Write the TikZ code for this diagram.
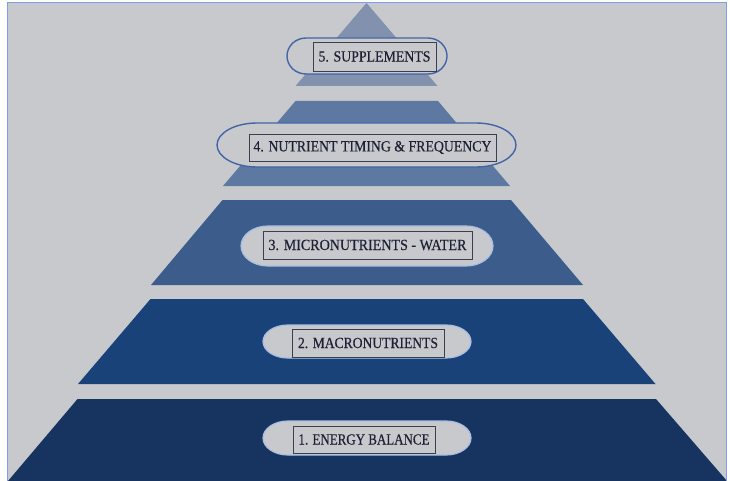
\documentclass[tikz,border=0pt]{standalone}
\usepackage{fontspec}
\setmainfont{Liberation Serif}
\newfontfamily\lblfont[FakeBold=0.4]{Liberation Serif}
\usepackage{graphicx}
\definecolor{bgc}{RGB}{200,201,205}
\definecolor{framec}{RGB}{125,158,235}
\definecolor{tfive}{RGB}{129,145,174}
\definecolor{tfour}{RGB}{94,121,161}
\definecolor{tthree}{RGB}{60,93,140}
\definecolor{ttwo}{RGB}{25,66,121}
\definecolor{tone}{RGB}{22,52,95}
\definecolor{ovblue}{RGB}{66,100,168}
\definecolor{ovglow}{RGB}{170,190,225}
\definecolor{rectc}{RGB}{60,64,78}
\definecolor{txtc}{RGB}{28,33,52}
\tikzset{
  ovalblue/.style={fill=bgc, draw=ovblue, line width=1.4pt},
  ovalglow/.style={fill=bgc, draw=ovglow, line width=1.2pt},
  labelbox/.style={draw=rectc, line width=0.8pt, fill=bgc, inner sep=0pt, text=txtc, font=\lblfont\fontsize{15.5}{15.5}\selectfont},
}
\newcommand{\fitw}[2]{\resizebox{#1pt}{\height}{#2}}
% \ovalpath{style}{left}{right}{top}{bottom}{rx}
\newcommand{\ovalpath}[6]{%
  \path[#1] ({#2+#6},#4) -- ({#3-#6},#4)
    arc[start angle=-90, end angle=90, x radius=#6, y radius={(#5-#4)/2}]
    -- ({#2+#6},#5)
    arc[start angle=90, end angle=270, x radius=#6, y radius={(#5-#4)/2}] -- cycle;}
\begin{document}
\begin{tikzpicture}[x=1pt,y=-1pt]
\useasboundingbox (0,0) rectangle (730,481);
% background
\fill[bgc] (7.5,2.5) rectangle (726.5,481);
% tiers
\fill[tfive] (366.5,3) -- (437.5,86) -- (295.5,86) -- cycle;
\fill[tfour] (295.5,101) -- (438,101) -- (510,186) -- (223,186) -- cycle;
\fill[tthree] (222.5,200) -- (511,200) -- (583,285) -- (151,285) -- cycle;
\fill[ttwo] (150.5,299) -- (583,299) -- (655.5,384) -- (78,384) -- cycle;
\fill[tone] (77.5,399) -- (656,399) -- (727,481) -- (8,481) -- cycle;
% frame
\draw[framec, line width=1.3pt] (7.5,481) -- (7.5,2.5) -- (726.5,2.5) -- (726.5,481);
% tier 5
\ovalpath{ovalblue}{287}{447}{38}{74}{19}
\node[labelbox, minimum width=123pt, minimum height=29pt] (r5) at (374.5,56.5) {\fitw{112}{5. SUPPLEMENTS}};
% tier 4
\ovalpath{ovalblue}{217}{516}{123}{167}{40}
\node[labelbox, minimum width=247pt, minimum height=27pt] (r4) at (372.5,147.5) {\fitw{238}{4. NUTRIENT TIMING \& FREQUENCY}};
% tier 3
\ovalpath{ovalglow}{241}{493}{226}{266}{27}
\node[labelbox, minimum width=209pt, minimum height=28pt] (r3) at (367.5,245) {\fitw{198}{3. MICRONUTRIENTS - WATER}};
% tier 2
\ovalpath{ovalglow}{263}{471}{325}{358}{25}
\node[labelbox, minimum width=152pt, minimum height=28pt] (r2) at (368,343) {\fitw{140}{2. MACRONUTRIENTS}};
% tier 1
\ovalpath{ovalglow}{263}{471}{421}{455}{25}
\node[labelbox, minimum width=142pt, minimum height=27pt] (r1) at (364,439.5) {\fitw{131}{1. ENERGY BALANCE}};
\end{tikzpicture}
\end{document}
